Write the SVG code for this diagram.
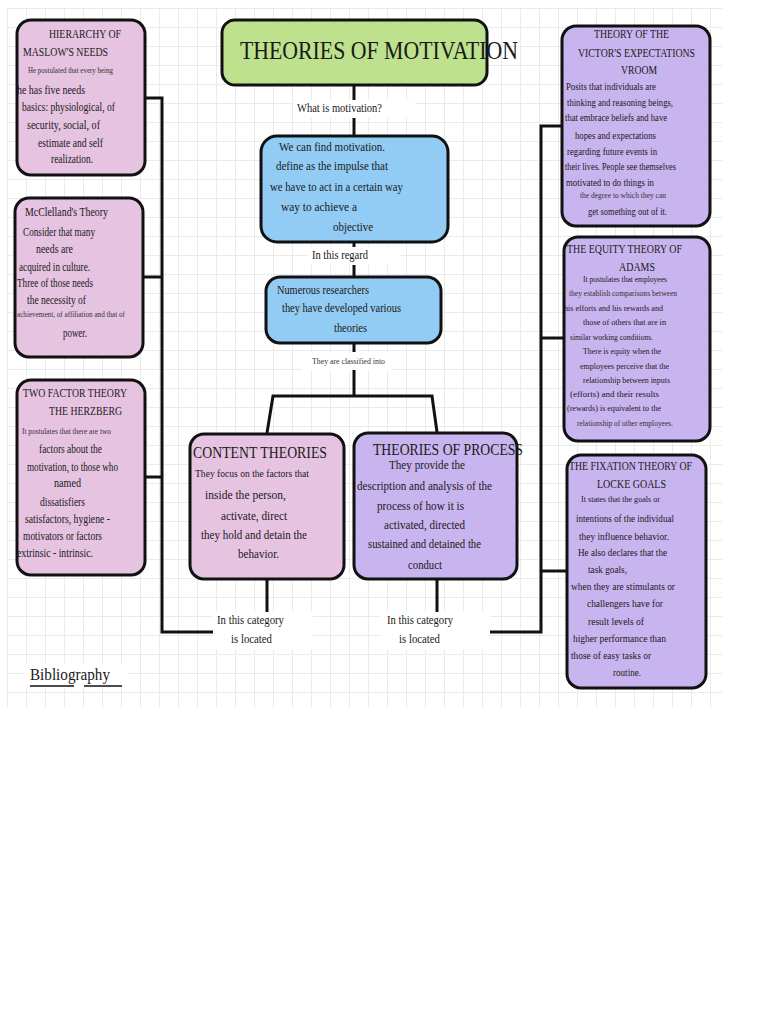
<svg xmlns="http://www.w3.org/2000/svg" width="768" height="1024" viewBox="0 0 768 1024">
<defs>
<pattern id="grid" x="7" y="8" width="19" height="19" patternUnits="userSpaceOnUse">
<path d="M0 0.5H19M0.5 0V19" fill="none" stroke="#ebebeb" stroke-width="1"/>
</pattern>
</defs>
<style>
.box{stroke:#111;stroke-width:3}
.pink{fill:#e6c3e1}
.purple{fill:#c8b4ee}
.blue{fill:#92cbf3}
.green{fill:#bde18c}
text{font-family:"Liberation Serif","Times New Roman",serif;fill:#1a1a1a;font-size:12px}
.t{font-size:8px;fill:#333}
.h{font-size:11.5px}
.big{font-size:17px}
.line{stroke:#111;stroke-width:3;fill:none}
.lbl{fill:#fff}
</style>
<rect x="0" y="0" width="768" height="1024" fill="#fff"/>
<rect x="7" y="8" width="715" height="700" fill="url(#grid)"/>

<g id="connectors">
<line class="line" x1="354" y1="85" x2="354" y2="136"/>
<line class="line" x1="354" y1="242" x2="354" y2="277"/>
<line class="line" x1="354" y1="343" x2="354" y2="396"/>
<polyline class="line" points="267,433 273,396 432,396 437,432"/>
<line class="line" x1="267" y1="579" x2="267" y2="612"/>
<line class="line" x1="437" y1="579" x2="437" y2="612"/>
<polyline class="line" points="145,98 162,98 162,632 213,632"/>
<line class="line" x1="143" y1="277" x2="162" y2="277"/>
<line class="line" x1="145" y1="477" x2="162" y2="477"/>
<polyline class="line" points="562,126 541,126 541,632 490,632"/>
<line class="line" x1="541" y1="338" x2="564" y2="338"/>
<line class="line" x1="541" y1="571" x2="567" y2="571"/>
<rect class="lbl" x="293" y="100" width="122" height="18"/>
<text x="297" y="112" textLength="85" lengthAdjust="spacingAndGlyphs">What is motivation?</text>
<rect class="lbl" x="308" y="247" width="92" height="18"/>
<text x="312" y="259" textLength="56" lengthAdjust="spacingAndGlyphs">In this regard</text>
<rect class="lbl" x="302" y="352" width="90" height="18"/>
<text class="t" x="312" y="364" textLength="73" lengthAdjust="spacingAndGlyphs">They are classified into</text>
<rect class="lbl" x="213" y="612" width="100" height="38"/>
<text x="217" y="624" textLength="67" lengthAdjust="spacingAndGlyphs">In this category</text>
<text x="231" y="643" textLength="41" lengthAdjust="spacingAndGlyphs">is located</text>
<rect class="lbl" x="380" y="612" width="110" height="38"/>
<text x="387" y="624" textLength="66" lengthAdjust="spacingAndGlyphs">In this category</text>
<text x="399" y="643" textLength="41" lengthAdjust="spacingAndGlyphs">is located</text>
</g>

<g id="title">
<rect class="box green" x="222" y="20" width="265" height="65" rx="13"/>
<text x="240" y="59" style="font-size:26px" textLength="278" lengthAdjust="spacingAndGlyphs">THEORIES OF MOTIVATION</text>
</g>

<g id="definition">
<rect class="box blue" x="261" y="136" width="187" height="106" rx="16"/>
<text x="279" y="151" textLength="106" lengthAdjust="spacingAndGlyphs">We can find motivation.</text>
<text x="276" y="170" textLength="112" lengthAdjust="spacingAndGlyphs">define as the impulse that</text>
<text x="270" y="191" textLength="133" lengthAdjust="spacingAndGlyphs">we have to act in a certain way</text>
<text x="281" y="211" textLength="76" lengthAdjust="spacingAndGlyphs">way to achieve a</text>
<text x="333" y="231" textLength="40" lengthAdjust="spacingAndGlyphs">objective</text>
</g>

<g id="researchers">
<rect class="box blue" x="266" y="277" width="175" height="66" rx="14"/>
<text x="277" y="294" textLength="92" lengthAdjust="spacingAndGlyphs">Numerous researchers</text>
<text x="282" y="312" textLength="119" lengthAdjust="spacingAndGlyphs">they have developed various</text>
<text x="334" y="332" textLength="33" lengthAdjust="spacingAndGlyphs">theories</text>
</g>

<g id="content-theories">
<rect class="box pink" x="190" y="434" width="154" height="145" rx="14"/>
<text class="big" x="193" y="458" textLength="134" lengthAdjust="spacingAndGlyphs">CONTENT THEORIES</text>
<text style="font-size:10.5px" x="195" y="477" textLength="114" lengthAdjust="spacingAndGlyphs">They focus on the factors that</text>
<text x="205" y="499" textLength="81" lengthAdjust="spacingAndGlyphs">inside the person,</text>
<text x="221" y="520" textLength="66" lengthAdjust="spacingAndGlyphs">activate, direct</text>
<text x="201" y="539" textLength="106" lengthAdjust="spacingAndGlyphs">they hold and detain the</text>
<text x="238" y="558" textLength="41" lengthAdjust="spacingAndGlyphs">behavior.</text>
</g>

<g id="process-theories">
<rect class="box purple" x="354" y="433" width="163" height="146" rx="14"/>
<text class="big" x="373" y="455" textLength="150" lengthAdjust="spacingAndGlyphs">THEORIES OF PROCESS</text>
<text x="389" y="469" textLength="76" lengthAdjust="spacingAndGlyphs">They provide the</text>
<text x="357" y="490" textLength="135" lengthAdjust="spacingAndGlyphs">description and analysis of the</text>
<text x="377" y="510" textLength="87" lengthAdjust="spacingAndGlyphs">process of how it is</text>
<text x="384" y="529" textLength="81" lengthAdjust="spacingAndGlyphs">activated, directed</text>
<text x="368" y="548" textLength="113" lengthAdjust="spacingAndGlyphs">sustained and detained the</text>
<text x="408" y="569" textLength="34" lengthAdjust="spacingAndGlyphs">conduct</text>
</g>

<g id="maslow">
<rect class="box pink" x="17" y="20" width="128" height="155" rx="14"/>
<text class="h" x="49" y="38" textLength="72" lengthAdjust="spacingAndGlyphs">HIERARCHY OF</text>
<text class="h" x="23" y="56" textLength="85" lengthAdjust="spacingAndGlyphs">MASLOW'S NEEDS</text>
<text class="t" x="28" y="73" textLength="85" lengthAdjust="spacingAndGlyphs">He postulated that every being</text>
<text x="17" y="94" textLength="68" lengthAdjust="spacingAndGlyphs">he has five needs</text>
<text x="22" y="111" textLength="93" lengthAdjust="spacingAndGlyphs">basics: physiological, of</text>
<text x="27" y="129" textLength="73" lengthAdjust="spacingAndGlyphs">security, social, of</text>
<text x="38" y="147" textLength="65" lengthAdjust="spacingAndGlyphs">estimate and self</text>
<text x="51" y="163" textLength="42" lengthAdjust="spacingAndGlyphs">realization.</text>
</g>

<g id="mcclelland">
<rect class="box pink" x="15" y="198" width="128" height="159" rx="14"/>
<text class="h" x="25" y="216" textLength="83" lengthAdjust="spacingAndGlyphs">McClelland's Theory</text>
<text x="23" y="236" textLength="72" lengthAdjust="spacingAndGlyphs">Consider that many</text>
<text x="36" y="253" textLength="37" lengthAdjust="spacingAndGlyphs">needs are</text>
<text x="19" y="271" textLength="71" lengthAdjust="spacingAndGlyphs">acquired in culture.</text>
<text x="17" y="287" textLength="76" lengthAdjust="spacingAndGlyphs">Three of those needs</text>
<text x="27" y="304" textLength="59" lengthAdjust="spacingAndGlyphs">the necessity of</text>
<text class="t" x="17" y="317" textLength="108" lengthAdjust="spacingAndGlyphs">achievement, of affiliation and that of</text>
<text x="63" y="337" textLength="24" lengthAdjust="spacingAndGlyphs">power.</text>
</g>

<g id="herzberg">
<rect class="box pink" x="17" y="380" width="128" height="195" rx="14"/>
<text class="h" x="23" y="397" textLength="104" lengthAdjust="spacingAndGlyphs">TWO FACTOR THEORY</text>
<text class="h" x="49" y="415" textLength="73" lengthAdjust="spacingAndGlyphs">THE HERZBERG</text>
<text class="t" x="22" y="434" textLength="89" lengthAdjust="spacingAndGlyphs">It postulates that there are two</text>
<text x="39" y="453" textLength="63" lengthAdjust="spacingAndGlyphs">factors about the</text>
<text x="27" y="471" textLength="91" lengthAdjust="spacingAndGlyphs">motivation, to those who</text>
<text x="54" y="487" textLength="27" lengthAdjust="spacingAndGlyphs">named</text>
<text x="40" y="506" textLength="45" lengthAdjust="spacingAndGlyphs">dissatisfiers</text>
<text x="25" y="523" textLength="85" lengthAdjust="spacingAndGlyphs">satisfactors, hygiene -</text>
<text x="23" y="540" textLength="79" lengthAdjust="spacingAndGlyphs">motivators or factors</text>
<text x="17" y="557" textLength="76" lengthAdjust="spacingAndGlyphs">extrinsic - intrinsic.</text>
</g>

<g id="vroom">
<rect class="box purple" x="562" y="26" width="148" height="200" rx="14"/>
<text class="h" x="594" y="38" textLength="75" lengthAdjust="spacingAndGlyphs">THEORY OF THE</text>
<text class="h" x="578" y="57" textLength="117" lengthAdjust="spacingAndGlyphs">VICTOR'S EXPECTATIONS</text>
<text class="h" x="621" y="74" textLength="36" lengthAdjust="spacingAndGlyphs">VROOM</text>
<text style="font-size:10.5px" x="566" y="90" textLength="90" lengthAdjust="spacingAndGlyphs">Posits that individuals are</text>
<text style="font-size:10.5px" x="567" y="106" textLength="106" lengthAdjust="spacingAndGlyphs">thinking and reasoning beings,</text>
<text style="font-size:10.5px" x="565" y="121" textLength="102" lengthAdjust="spacingAndGlyphs">that embrace beliefs and have</text>
<text style="font-size:10.5px" x="575" y="139" textLength="81" lengthAdjust="spacingAndGlyphs">hopes and expectations</text>
<text style="font-size:10.5px" x="567" y="155" textLength="90" lengthAdjust="spacingAndGlyphs">regarding future events in</text>
<text style="font-size:10.5px" x="565" y="170" textLength="111" lengthAdjust="spacingAndGlyphs">their lives. People see themselves</text>
<text style="font-size:10.5px" x="566" y="186" textLength="88" lengthAdjust="spacingAndGlyphs">motivated to do things in</text>
<text class="t" x="580" y="198" textLength="86" lengthAdjust="spacingAndGlyphs">the degree to which they can</text>
<text style="font-size:9.5px" x="588" y="215" textLength="79" lengthAdjust="spacingAndGlyphs">get something out of it.</text>
</g>

<g id="adams">
<rect class="box purple" x="564" y="237" width="146" height="204" rx="14"/>
<text class="h" x="567" y="253" textLength="115" lengthAdjust="spacingAndGlyphs">THE EQUITY THEORY OF</text>
<text class="h" x="619" y="271" textLength="36" lengthAdjust="spacingAndGlyphs">ADAMS</text>
<text style="font-size:9px" x="583" y="282" textLength="84" lengthAdjust="spacingAndGlyphs">It postulates that employees</text>
<text class="t" x="569" y="296" textLength="108" lengthAdjust="spacingAndGlyphs">they establish comparisons between</text>
<text style="font-size:9px" x="564" y="311" textLength="99" lengthAdjust="spacingAndGlyphs">his efforts and his rewards and</text>
<text style="font-size:9px" x="583" y="325" textLength="83" lengthAdjust="spacingAndGlyphs">those of others that are in</text>
<text style="font-size:9px" x="570" y="340" textLength="83" lengthAdjust="spacingAndGlyphs">similar working conditions.</text>
<text style="font-size:9px" x="583" y="354" textLength="78" lengthAdjust="spacingAndGlyphs">There is equity when the</text>
<text style="font-size:9px" x="580" y="369" textLength="89" lengthAdjust="spacingAndGlyphs">employees perceive that the</text>
<text style="font-size:9px" x="583" y="383" textLength="87" lengthAdjust="spacingAndGlyphs">relationship between inputs</text>
<text style="font-size:9px" x="570" y="397" textLength="89" lengthAdjust="spacingAndGlyphs">(efforts) and their results</text>
<text style="font-size:9px" x="567" y="411" textLength="94" lengthAdjust="spacingAndGlyphs">(rewards) is equivalent to the</text>
<text class="t" x="577" y="426" textLength="96" lengthAdjust="spacingAndGlyphs">relationship of other employees.</text>
</g>

<g id="locke">
<rect class="box purple" x="567" y="455" width="139" height="233" rx="14"/>
<text class="h" x="569" y="470" textLength="123" lengthAdjust="spacingAndGlyphs">THE FIXATION THEORY OF</text>
<text class="h" x="597" y="488" textLength="69" lengthAdjust="spacingAndGlyphs">LOCKE GOALS</text>
<text style="font-size:9px" x="581" y="502" textLength="79" lengthAdjust="spacingAndGlyphs">It states that the goals or</text>
<text style="font-size:11px" x="576" y="522" textLength="98" lengthAdjust="spacingAndGlyphs">intentions of the individual</text>
<text style="font-size:11px" x="579" y="540" textLength="90" lengthAdjust="spacingAndGlyphs">they influence behavior.</text>
<text style="font-size:11px" x="578" y="556" textLength="89" lengthAdjust="spacingAndGlyphs">He also declares that the</text>
<text style="font-size:11px" x="588" y="573" textLength="39" lengthAdjust="spacingAndGlyphs">task goals,</text>
<text style="font-size:11px" x="571" y="590" textLength="104" lengthAdjust="spacingAndGlyphs">when they are stimulants or</text>
<text style="font-size:11px" x="587" y="607" textLength="76" lengthAdjust="spacingAndGlyphs">challengers have for</text>
<text style="font-size:11px" x="588" y="625" textLength="56" lengthAdjust="spacingAndGlyphs">result levels of</text>
<text style="font-size:11px" x="573" y="642" textLength="93" lengthAdjust="spacingAndGlyphs">higher performance than</text>
<text style="font-size:11px" x="571" y="659" textLength="80" lengthAdjust="spacingAndGlyphs">those of easy tasks or</text>
<text style="font-size:11px" x="613" y="676" textLength="28" lengthAdjust="spacingAndGlyphs">routine.</text>
</g>

<g id="bibliography">
<rect fill="#fff" x="25" y="663" width="103" height="25"/>
<text x="30" y="680" style="font-size:17px" textLength="80" lengthAdjust="spacingAndGlyphs">Bibliography</text>
<line x1="30" y1="686" x2="74" y2="686" stroke="#111" stroke-width="1.5"/>
<line x1="84" y1="686" x2="122" y2="686" stroke="#111" stroke-width="1.5"/>
</g>
</svg>
